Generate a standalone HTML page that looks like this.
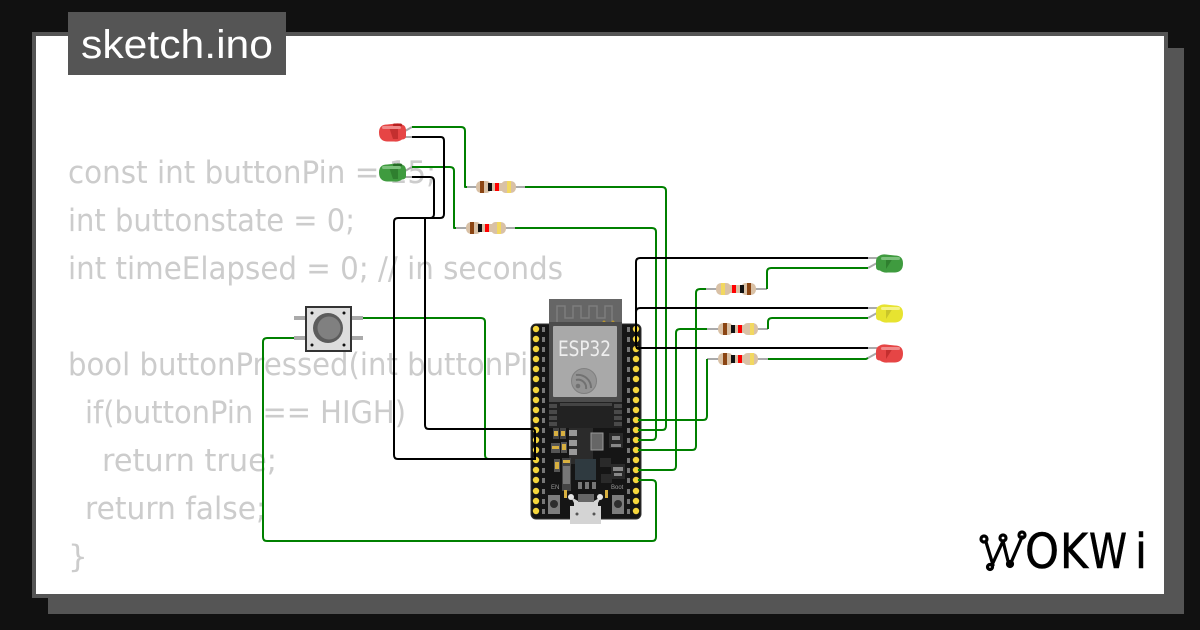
<!DOCTYPE html>
<html><head><meta charset="utf-8"><style>
html,body{margin:0;padding:0;background:#111;width:1200px;height:630px;overflow:hidden}
svg{display:block}
</style></head><body>
<svg width="1200" height="630" viewBox="0 0 1200 630" xmlns="http://www.w3.org/2000/svg">
<defs>
<path id="bone" d="M0 6Q0 0 6 0H10Q13 0 14 2H26Q27 0 30 0H34Q40 0 40 6Q40 12 34 12H30Q27 12 26 10H14Q13 12 10 12H6Q0 12 0 6Z" fill="#d9c1a6"/>
<path id="dome" d="M0 9.5Q0 1.5 8 1.5L17 0.5Q21 0 24 2Q27 3 27 8V13Q27 16.5 23 16.5Q20 19 15 18.5H8Q0 18 0 9.5Z"/>
</defs>
<rect width="1200" height="630" fill="#111"/>
<rect x="48" y="48" width="1136" height="566" fill="#555"/>
<rect x="34" y="34" width="1132" height="562" fill="#fff" stroke="#555" stroke-width="4"/>
<rect x="68" y="12" width="218" height="63" fill="#555"/>
<text x="81" y="58" font-family="'Liberation Sans',sans-serif" font-size="40" fill="#fff" textLength="192" lengthAdjust="spacingAndGlyphs">sketch.ino</text>
<g font-family="'DejaVu Sans','Liberation Sans',sans-serif" font-size="31" fill="#ccc">
<text x="68" y="183" textLength="368" lengthAdjust="spacingAndGlyphs">const int buttonPin = 15;</text>
<text x="68" y="231" textLength="287" lengthAdjust="spacingAndGlyphs">int buttonstate = 0;</text>
<text x="68" y="279" textLength="495" lengthAdjust="spacingAndGlyphs">int timeElapsed = 0; // in seconds</text>
<text x="68" y="375" textLength="490" lengthAdjust="spacingAndGlyphs">bool buttonPressed(int buttonPin)</text>
<text x="85" y="423" textLength="321" lengthAdjust="spacingAndGlyphs">if(buttonPin == HIGH)</text>
<text x="102" y="471" textLength="175" lengthAdjust="spacingAndGlyphs">return true;</text>
<text x="85" y="519" textLength="181" lengthAdjust="spacingAndGlyphs">return false;</text>
<text x="68" y="567">}</text>
</g>

<!-- ESP32 board -->
<rect x="549" y="299" width="73" height="60" fill="#666"/>
<path d="M557 323V306H565V318H573V306H581V318H589V306H597V318H605V306H612V322" fill="none" stroke="#7d7d7d" stroke-width="1.5"/>
<circle cx="604" cy="322" r="1.5" fill="#b8962e"/><circle cx="613" cy="322" r="1.5" fill="#b8962e"/>
<rect x="531" y="324" width="110" height="195" rx="5" fill="#151515" stroke="#333" stroke-width="1"/>
<rect x="549" y="322" width="73" height="80" fill="#4c4c4c"/>
<rect x="553" y="326" width="64" height="71" rx="1" fill="#a9a9a9"/>
<text x="558" y="356" font-family="'DejaVu Sans',sans-serif" font-size="21" fill="#eee" textLength="53" lengthAdjust="spacingAndGlyphs">ESP32</text>
<circle cx="584" cy="381" r="12.5" fill="#949494" stroke="#808080" stroke-width="1"/>
<path d="M576 375a13 13 0 0 1 15 13M576 380a8 8 0 0 1 10 9" fill="none" stroke="#727272" stroke-width="2"/>
<circle cx="578" cy="386" r="2.3" fill="#727272"/>
<rect x="549" y="402" width="73" height="26" fill="#222"/>
<g fill="#4a4a4a"><rect x="549" y="404" width="8" height="4"/><rect x="549" y="410" width="8" height="4"/><rect x="549" y="416" width="8" height="4"/><rect x="549" y="422" width="8" height="4"/><rect x="614" y="404" width="8" height="4"/><rect x="614" y="410" width="8" height="4"/><rect x="614" y="416" width="8" height="4"/><rect x="614" y="422" width="8" height="4"/></g>
<g fill="#444"><rect x="560" y="403" width="52" height="3"/></g>
<!-- silk marks -->
<g fill="#777">
<rect x="542" y="327" width="3" height="5"/><rect x="542" y="337" width="3" height="5"/><rect x="542" y="347" width="3" height="5"/><rect x="542" y="357" width="3" height="5"/><rect x="542" y="367" width="3" height="5"/><rect x="542" y="377" width="3" height="5"/><rect x="542" y="388" width="3" height="5"/><rect x="542" y="398" width="3" height="5"/><rect x="542" y="408" width="3" height="5"/><rect x="542" y="418" width="3" height="5"/><rect x="542" y="428" width="3" height="5"/><rect x="542" y="438" width="3" height="5"/><rect x="542" y="448" width="3" height="5"/><rect x="542" y="458" width="3" height="5"/><rect x="542" y="468" width="3" height="5"/><rect x="542" y="478" width="3" height="5"/><rect x="542" y="489" width="3" height="5"/><rect x="542" y="499" width="3" height="5"/><rect x="542" y="509" width="3" height="5"/>
<rect x="627" y="327" width="3" height="5"/><rect x="627" y="337" width="3" height="5"/><rect x="627" y="347" width="3" height="5"/><rect x="627" y="357" width="3" height="5"/><rect x="627" y="367" width="3" height="5"/><rect x="627" y="377" width="3" height="5"/><rect x="627" y="388" width="3" height="5"/><rect x="627" y="398" width="3" height="5"/><rect x="627" y="408" width="3" height="5"/><rect x="627" y="418" width="3" height="5"/><rect x="627" y="428" width="3" height="5"/><rect x="627" y="438" width="3" height="5"/><rect x="627" y="448" width="3" height="5"/><rect x="627" y="458" width="3" height="5"/><rect x="627" y="468" width="3" height="5"/><rect x="627" y="478" width="3" height="5"/><rect x="627" y="489" width="3" height="5"/><rect x="627" y="499" width="3" height="5"/><rect x="627" y="509" width="3" height="5"/>
</g>
<!-- pins -->
<g fill="#f5d63c">
<circle cx="536" cy="329" r="3.2"/><circle cx="536" cy="339" r="3.2"/><circle cx="536" cy="349" r="3.2"/><circle cx="536" cy="359" r="3.2"/><circle cx="536" cy="369" r="3.2"/><circle cx="536" cy="379" r="3.2"/><circle cx="536" cy="390" r="3.2"/><circle cx="536" cy="400" r="3.2"/><circle cx="536" cy="410" r="3.2"/><circle cx="536" cy="420" r="3.2"/><circle cx="536" cy="430" r="3.2"/><circle cx="536" cy="440" r="3.2"/><circle cx="536" cy="450" r="3.2"/><circle cx="536" cy="460" r="3.2"/><circle cx="536" cy="470" r="3.2"/><circle cx="536" cy="480" r="3.2"/><circle cx="536" cy="491" r="3.2"/><circle cx="536" cy="501" r="3.2"/><circle cx="536" cy="511" r="3.2"/>
<circle cx="636" cy="329" r="3.2"/><circle cx="636" cy="339" r="3.2"/><circle cx="636" cy="349" r="3.2"/><circle cx="636" cy="359" r="3.2"/><circle cx="636" cy="369" r="3.2"/><circle cx="636" cy="379" r="3.2"/><circle cx="636" cy="390" r="3.2"/><circle cx="636" cy="400" r="3.2"/><circle cx="636" cy="410" r="3.2"/><circle cx="636" cy="420" r="3.2"/><circle cx="636" cy="430" r="3.2"/><circle cx="636" cy="440" r="3.2"/><circle cx="636" cy="450" r="3.2"/><circle cx="636" cy="460" r="3.2"/><circle cx="636" cy="470" r="3.2"/><circle cx="636" cy="480" r="3.2"/><circle cx="636" cy="491" r="3.2"/><circle cx="636" cy="501" r="3.2"/><circle cx="636" cy="511" r="3.2"/>
</g>
<!-- board components -->
<g>
<rect x="553" y="428" width="6" height="11" fill="#444"/><rect x="554" y="431" width="4" height="5" fill="#d8b040"/>
<rect x="560" y="428" width="6" height="11" fill="#444"/><rect x="561" y="431" width="4" height="5" fill="#d8b040"/>
<rect x="551" y="443" width="9" height="10" fill="#555"/><rect x="552" y="446" width="7" height="3" fill="#d8b040"/>
<rect x="561" y="442" width="6" height="11" fill="#555"/><rect x="562" y="444" width="4" height="6" fill="#d8b040"/>
<rect x="569" y="428" width="24" height="36" fill="#2b2b2b"/><rect x="569" y="430" width="8" height="6" fill="#999"/><rect x="569" y="440" width="8" height="6" fill="#999"/><rect x="569" y="449" width="8" height="6" fill="#999"/>
<rect x="591" y="433" width="12" height="17" fill="#666" stroke="#999"/>
<rect x="609" y="433" width="14" height="15" fill="#2a2a2a"/><rect x="612" y="436" width="8" height="4" fill="#888"/><rect x="611" y="444" width="10" height="3" fill="#888"/>
<rect x="554" y="459" width="6" height="13" fill="#555"/><rect x="555" y="462" width="4" height="7" fill="#d8b040"/>
<rect x="562" y="458" width="9" height="33" fill="#444"/><rect x="563" y="460" width="7" height="3" fill="#d8b040"/><rect x="563" y="466" width="7" height="18" fill="#777"/>
<rect x="575" y="459" width="21" height="21" fill="#2f3a40"/>
<rect x="600" y="458" width="11" height="9" fill="#2a2a2a"/><rect x="601" y="474" width="11" height="9" fill="#2a2a2a"/>
<rect x="611" y="464" width="14" height="15" fill="#2a2a2a"/><rect x="613" y="467" width="10" height="4" fill="#888"/><rect x="614" y="473" width="8" height="3" fill="#888"/>
<rect x="564" y="490" width="3" height="8" fill="#d8b040"/><rect x="605" y="490" width="3" height="8" fill="#d8b040"/>
<rect x="548" y="495" width="12" height="19" fill="#7d7d7d"/><circle cx="554" cy="504" r="4" fill="#2e2e2e"/>
<rect x="612" y="495" width="12" height="19" fill="#7d7d7d"/><circle cx="618" cy="504" r="4" fill="#2e2e2e"/>
<rect x="578" y="482" width="4" height="7" fill="#777"/><rect x="585" y="482" width="4" height="7" fill="#777"/><rect x="592" y="482" width="4" height="7" fill="#777"/>
<path d="M571 497L574 503V524H598V503L601 497L594 501H578Z" fill="#d4d4d4"/>
<rect x="570" y="506" width="31" height="18" fill="#d4d4d4"/>
<rect x="578" y="494" width="16" height="8" fill="#666"/>
<circle cx="571" cy="497" r="3" fill="#e5e5e5"/><circle cx="600" cy="497" r="3" fill="#e5e5e5"/>
<circle cx="577" cy="514" r="1.5" fill="#555"/><circle cx="594" cy="514" r="1.5" fill="#555"/>
</g>
<text x="551" y="489" font-family="'Liberation Sans',sans-serif" font-size="6" fill="#999">EN</text>
<text x="611" y="489" font-family="'Liberation Sans',sans-serif" font-size="6" fill="#999">Boot</text>

<!-- button -->
<g>
<g fill="#aaa"><rect x="294" y="316" width="11" height="4"/><rect x="294" y="336" width="11" height="4"/><rect x="352" y="316" width="11" height="4"/><rect x="352" y="336" width="11" height="4"/></g>
<rect x="306" y="307" width="45" height="44" fill="#ddd" stroke="#333" stroke-width="2"/>
<circle cx="328" cy="328" r="15" fill="#5c5c5c"/>
<circle cx="329" cy="328" r="11.5" fill="#808080"/>
<g fill="#111"><circle cx="312" cy="313" r="1.5"/><circle cx="344" cy="313" r="1.5"/><circle cx="312" cy="345" r="1.5"/><circle cx="344" cy="345" r="1.5"/></g>
</g>

<!-- LED leads -->
<g stroke="#aaa" stroke-width="2" fill="none">
<path d="M405 131L412 127M405 137H412M405 171L412 167M405 177H412"/>
<path d="M877 258H868M877 263L868 268M877 308H868M877 313L868 318M877 348H868M877 353L868 358"/>
</g>
<!-- LEDs -->
<g>
<g transform="translate(379,123)"><use href="#dome" fill="#e64545"/><path d="M10 4H19V16H14Z" fill="#c42f2f"/><rect x="14" y="0.5" width="9" height="3" rx="1.5" fill="#b82020"/><rect x="3" y="3" width="19" height="3" rx="1.5" fill="#f08a8a"/></g>
<g transform="translate(379,163)"><use href="#dome" fill="#3f9b3f"/><path d="M10 4H19V16H14Z" fill="#2f7f2f"/><rect x="14" y="0.5" width="9" height="3" rx="1.5" fill="#256b25"/><rect x="3" y="3" width="19" height="3" rx="1.5" fill="#7cc07c"/></g>
<g transform="translate(903,254) scale(-1,1)"><use href="#dome" fill="#3f9b3f"/><path d="M10 4H17V15Z" fill="#2f7f2f"/><rect x="3" y="3" width="19" height="3" rx="1.5" fill="#7cc07c"/></g>
<g transform="translate(903,304) scale(-1,1)"><use href="#dome" fill="#e7e330"/><path d="M10 4H17V15Z" fill="#c9c52a"/><rect x="3" y="3" width="19" height="3" rx="1.5" fill="#f5f38a"/></g>
<g transform="translate(903,344) scale(-1,1)"><use href="#dome" fill="#e64545"/><path d="M10 4H17V15Z" fill="#c42f2f"/><rect x="3" y="3" width="19" height="3" rx="1.5" fill="#f08a8a"/></g>
</g>

<!-- resistor leads -->
<g stroke="#aaa" stroke-width="2"><path d="M465 187H525M455 228H515M706 289H767M707 329H768M707 359H768"/></g>
<!-- resistors -->
<use href="#bone" x="476" y="181"/>
<use href="#bone" x="466" y="222"/>
<use href="#bone" x="716" y="283"/>
<use href="#bone" x="718" y="323"/>
<use href="#bone" x="718" y="353"/>
<g>
<rect x="480" y="181" width="4" height="12" fill="#8b4513"/><rect x="488" y="183" width="4" height="8" fill="#111"/><rect x="495" y="183" width="4" height="8" fill="#f00"/><rect x="507" y="181" width="4" height="12" fill="#f2d860"/>
<rect x="470" y="222" width="4" height="12" fill="#8b4513"/><rect x="478" y="224" width="4" height="8" fill="#111"/><rect x="485" y="224" width="4" height="8" fill="#f00"/><rect x="497" y="222" width="4" height="12" fill="#f2d860"/>
<rect x="721" y="283" width="4" height="12" fill="#f2d860"/><rect x="732" y="285" width="4" height="8" fill="#f00"/><rect x="740" y="285" width="4" height="8" fill="#111"/><rect x="747" y="283" width="4" height="12" fill="#8b4513"/>
<rect x="723" y="323" width="4" height="12" fill="#8b4513"/><rect x="731" y="325" width="4" height="8" fill="#111"/><rect x="738" y="325" width="4" height="8" fill="#f00"/><rect x="750" y="323" width="4" height="12" fill="#f2d860"/>
<rect x="723" y="353" width="4" height="12" fill="#8b4513"/><rect x="731" y="355" width="4" height="8" fill="#111"/><rect x="738" y="355" width="4" height="8" fill="#f00"/><rect x="750" y="353" width="4" height="12" fill="#f2d860"/>
</g>

<!-- green wires -->
<g fill="none" stroke="#008000" stroke-width="2" stroke-linejoin="round">
<path d="M412 127H461Q465 127 465 131V187H467"/>
<path d="M412 167H450Q454 167 454 171V228H456"/>
<path d="M525 187H662Q666 187 666 191V426Q666 430 662 430H636"/>
<path d="M515 228H652Q656 228 656 232V436Q656 440 652 440H636"/>
<path d="M868 268H771Q767 268 767 272V289"/>
<path d="M706 289H700Q696 289 696 293V446Q696 450 692 450H636"/>
<path d="M868 318H772Q768 318 768 322V329"/>
<path d="M707 329H680Q676 329 676 333V466Q676 470 672 470H636"/>
<path d="M868 358L866 359H768"/>
<path d="M707 359V416Q707 420 703 420H636"/>
<path d="M636 480H652Q656 480 656 484V537Q656 541 652 541H267Q263 541 263 537V342Q263 338 267 338H294"/>
<path d="M363 318H481Q485 318 485 322V455Q485 459 489 459H536"/>
</g>
<!-- black wires -->
<g fill="none" stroke="#000" stroke-width="2" stroke-linejoin="round">
<path d="M412 137H441Q444 137 444 141V214Q444 218 440 218H425V425Q425 429 429 429H532Q535 429 535 432V459"/>
<path d="M412 177H430Q434 177 434 181V214Q434 218 430 218H398Q394 218 394 222V455Q394 459 398 459H536"/>
<path d="M868 258H640Q636 258 636 262V345Q636 349 640 349"/>
<path d="M868 308H640Q636 308 636 312"/>
<path d="M868 348H636"/>
</g>
<g fill="#f5d63c"><circle cx="636" cy="420" r="2"/><circle cx="636" cy="430" r="2"/><circle cx="636" cy="440" r="2"/><circle cx="636" cy="450" r="2"/><circle cx="636" cy="470" r="2"/><circle cx="636" cy="480" r="2"/></g>

<!-- Wokwi logo -->
<g font-family="'DejaVu Sans',sans-serif" font-size="48" fill="#000" stroke="#000" stroke-width="0.6">
<text x="1025" y="568" textLength="34" lengthAdjust="spacingAndGlyphs">O</text>
<text x="1060" y="568" textLength="28" lengthAdjust="spacingAndGlyphs">K</text>
<text x="1089" y="568" textLength="38" lengthAdjust="spacingAndGlyphs">W</text>
<text x="1135" y="568" textLength="12" lengthAdjust="spacingAndGlyphs">i</text>
</g>
<g fill="none" stroke="#000" stroke-width="3.2" stroke-linecap="round" stroke-linejoin="round">
<path d="M986 542L993 565M1003 541L992 565M1003 541L1009 565M1022 537L1010 565"/>
<circle cx="984" cy="539" r="3"/><circle cx="1003" cy="538" r="3"/><circle cx="1022" cy="535" r="3"/><circle cx="990" cy="567" r="2.5"/><circle cx="1010" cy="564" r="2.5"/>
</g>
</svg>
</body></html>
